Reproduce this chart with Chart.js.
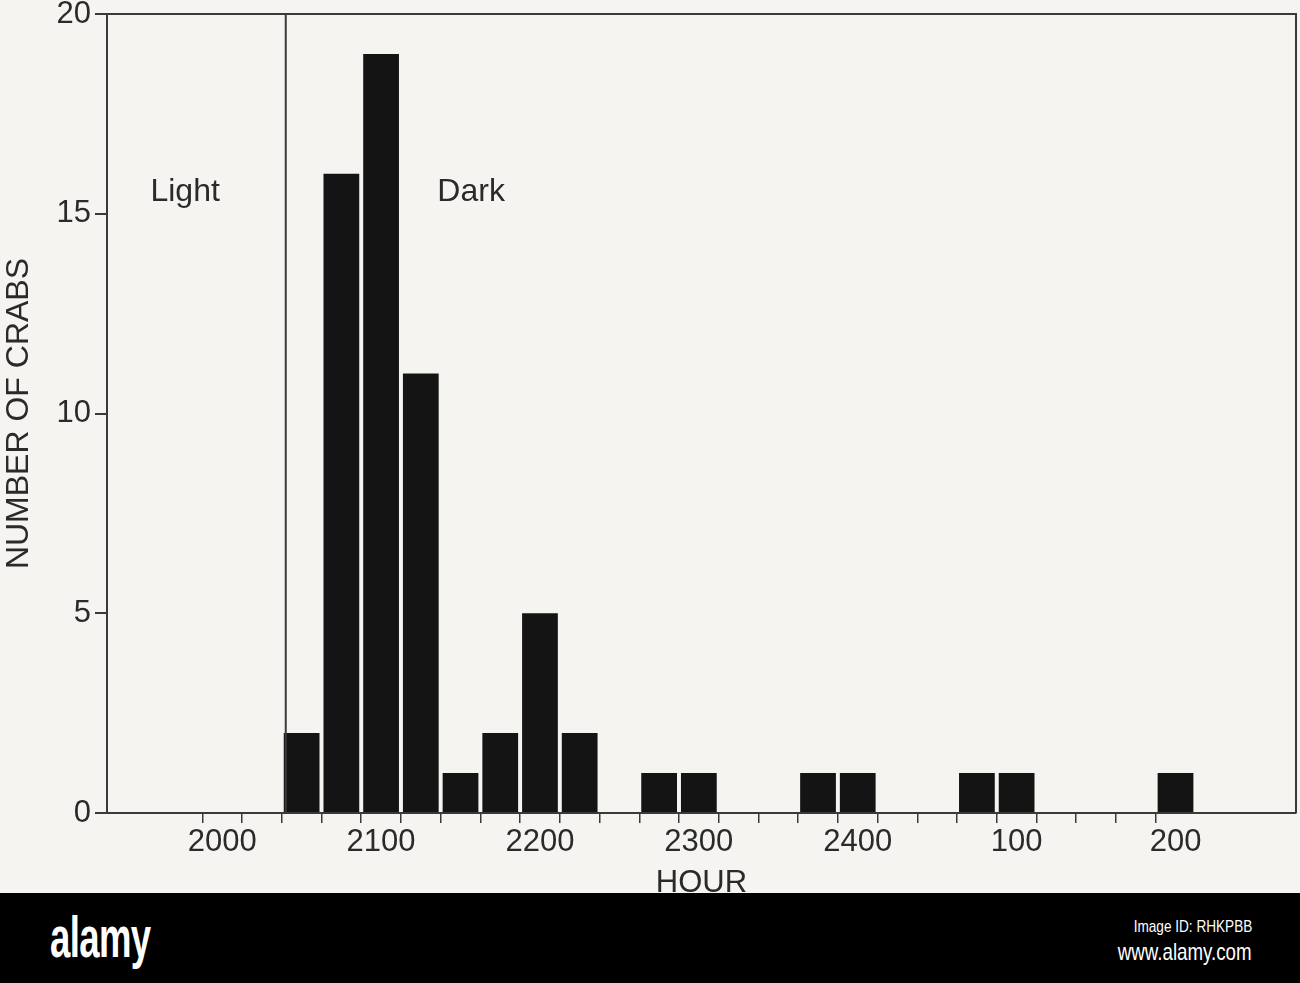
<!DOCTYPE html>
<html>
<head>
<meta charset="utf-8">
<script src="https://cdn.jsdelivr.net/npm/chart.js@4.4.1/dist/chart.umd.min.js"></script>
<style>
  body { margin: 0; width: 1300px; height: 983px; overflow: hidden; background: #f5f4f1; }
  #wrap { position: relative; width: 1300px; height: 893px; }
  #footer { position: relative; width: 1300px; height: 90px; background: #000; color: #fff; font-family: "Liberation Sans", Arial, sans-serif; }
  #logo { position: absolute; left: 50px; top: 10px; font-size: 58px; font-weight: bold; transform: scaleX(0.63); transform-origin: left top; letter-spacing: -1px; }
  #imgid { position: absolute; right: 48px; top: 24px; font-size: 17px; transform: scaleX(0.8); transform-origin: right top; }
  #site { position: absolute; right: 48px; top: 45px; font-size: 24px; transform: scaleX(0.78); transform-origin: right top; }
</style>
</head>
<body>
<div id="wrap"><canvas id="grafikKepiting" width="1300" height="893"></canvas></div>
<div id="footer">
  <div id="logo">alamy</div>
  <div id="imgid">Image ID: RHKPBB</div>
  <div id="site">www.alamy.com</div>
</div>
<script>
// data per 15 menit (jam hhmm)
const binLabels = ['2030', '2045', '2100', '2115', '2130', '2145', '2200', '2215', '2230', '2245',
                   '2300', '2315', '2330', '2345', '2400', '15', '30', '45', '100', '115', '130', '145', '200'];
const crabCounts = [2, 16, 19, 11, 1, 2, 5, 2, 0, 1,
                    1, 0, 0, 1, 1, 0, 0, 1, 1, 0, 0, 0, 1];
const hourLabels = ['2000', '2100', '2200', '2300', '2400', '100', '200'];
const yTicks = [0, 5, 10, 15, 20];

// menit sejak jam 1900
function toMinutes(hhmm) {
    const v = parseInt(hhmm, 10);
    const h = Math.floor(v / 100), m = v % 100;
    return ((h - 19 + 24) % 24) * 60 + m;
}

const xMin = 16.5, xMax = 465.5;
const sunset = toMinutes('2024');
const tickStart = 52.5, tickEnd = 412.5;
const textColor = '#2a2a2a';
const lineColor = '#3a3a3a';
const fontFamily = '"Liberation Sans", Arial, sans-serif';

const garisGelap = {
    id: 'garisGelap',
    afterDraw(chart) {
        const { ctx, chartArea: a, scales: { x, y } } = chart;
        ctx.save();
        ctx.strokeStyle = lineColor;
        ctx.lineWidth = 2;
        ctx.beginPath();
        ctx.moveTo(a.left, a.top); ctx.lineTo(a.right, a.top); ctx.lineTo(a.right, a.bottom);
        const px = x.getPixelForValue(sunset);
        ctx.moveTo(px, a.top); ctx.lineTo(px, a.bottom);
        ctx.stroke();
        ctx.fillStyle = textColor;
        ctx.font = '32px ' + fontFamily;
        ctx.textAlign = 'center';
        ctx.textBaseline = 'middle';
        ctx.fillText('Light', x.getPixelForValue(toMinutes('1946')), y.getPixelForValue(15.55));
        ctx.fillText('Dark', x.getPixelForValue(toMinutes('2134')), y.getPixelForValue(15.55));
        ctx.restore();
    }
};

const ctx = document.getElementById('grafikKepiting').getContext('2d');
const grafik = new Chart(ctx, {
    type: 'bar',
    data: {
        datasets: [{
            label: 'Number of crabs',
            data: binLabels.map((b, i) => ({ x: toMinutes(b), y: crabCounts[i] })),
            backgroundColor: '#141414',
            borderWidth: 0,
            barPercentage: 1,
            categoryPercentage: 0.9
        }]
    },
    options: {
        responsive: false,
        animation: false,
        layout: { padding: { top: 0, right: 4, left: 0, bottom: 0 } },
        plugins: { legend: { display: false }, tooltip: { enabled: false } },
        scales: {
            x: {
                type: 'linear',
                position: 'bottom',
                offset: false,
                min: xMin,
                max: xMax,
                afterBuildTicks: (scale) => {
                    const t = [];
                    for (let v = tickStart; v <= tickEnd; v += 15) t.push({ value: v });
                    scale.ticks = t;
                },
                afterFit: (scale) => { scale.height = 10; },
                ticks: { display: false },
                grid: { offset: false, drawOnChartArea: false, drawTicks: true, tickLength: 10, color: lineColor, lineWidth: 1.5 },
                border: { display: true, color: lineColor, width: 2 }
            },
            x2: {
                type: 'linear',
                position: 'bottom',
                offset: false,
                min: xMin,
                max: xMax,
                afterBuildTicks: (scale) => {
                    scale.ticks = hourLabels.map(h => ({ value: toMinutes(h) }));
                },
                afterFit: (scale) => { scale.height = 70; },
                ticks: {
                    autoSkip: false,
                    maxRotation: 0,
                    padding: 1,
                    color: textColor,
                    font: { family: fontFamily, size: 31 },
                    callback: (value) => hourLabels.find(h => toMinutes(h) === value) || ''
                },
                grid: { offset: false, display: false, drawTicks: false },
                border: { display: false },
                title: {
                    display: true,
                    text: 'HOUR',
                    color: textColor,
                    font: { family: fontFamily, size: 31, lineHeight: 0.6 },
                    padding: 0
                }
            },
            y: {
                min: 0,
                max: 20,
                afterBuildTicks: (scale) => { scale.ticks = yTicks.map(v => ({ value: v })); },
                afterFit: (scale) => { scale.width = 107; },
                ticks: {
                    padding: 4,
                    color: textColor,
                    font: { family: fontFamily, size: 31, lineHeight: 0.65 }
                },
                grid: { drawOnChartArea: false, drawTicks: true, tickLength: 12, color: lineColor, lineWidth: 2 },
                border: { display: true, color: lineColor, width: 2 },
                title: {
                    display: true,
                    text: 'NUMBER OF CRABS',
                    color: textColor,
                    font: { family: fontFamily, size: 32 },
                    padding: 0
                }
            }
        }
    },
    plugins: [garisGelap]
});
</script>
</body>
</html>
